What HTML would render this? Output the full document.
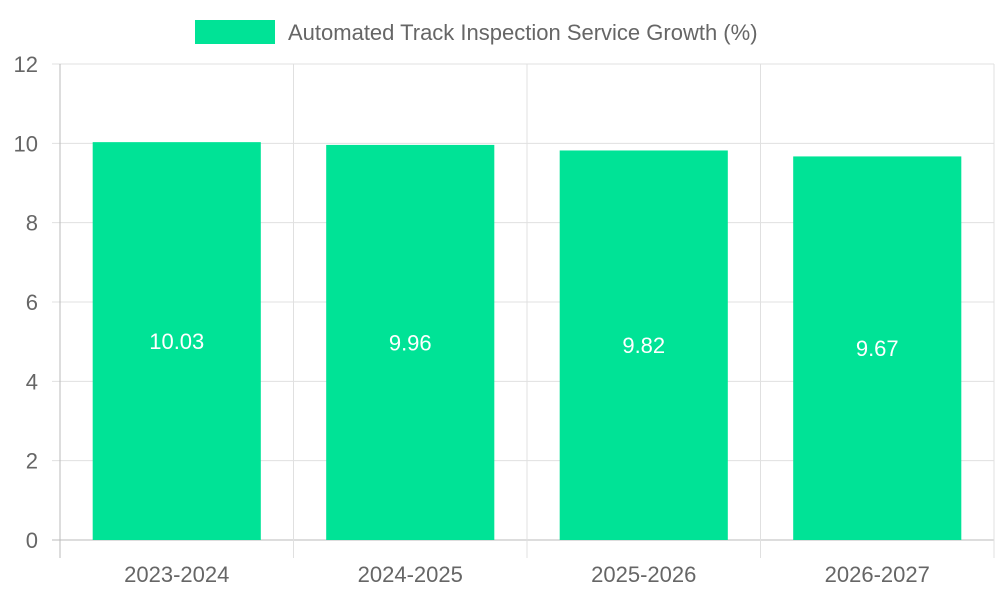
<!DOCTYPE html>
<html><head><meta charset="utf-8"><style>
body{margin:0;background:#fff;font-family:"Liberation Sans",sans-serif}
svg text{font-family:"Liberation Sans",sans-serif}
</style></head><body>
<svg id="chart" width="1000" height="600" xmlns="http://www.w3.org/2000/svg">
<g id="legend">
<rect x="195" y="20" width="80" height="24" fill="#00e396"/>
<text x="288" y="40" font-size="22" fill="#666">Automated Track Inspection Service Growth (%)</text>
</g>
<g id="grid"></g><g id="bars"></g><g id="labels"></g>
</svg>
<script>
const categories=["2023-2024","2024-2025","2025-2026","2026-2027"];
const values=[10.03,9.96,9.82,9.67];
const yTicks=[0,2,4,6,8,10,12];
const X0=60,X1=994,Y0=540,Y1=64,YMAX=12;
const ns="http://www.w3.org/2000/svg";
const y=v=>Y0-(v/YMAX)*(Y0-Y1);
const bw=(X1-X0)/categories.length;
const x=i=>X0+i*bw;
function mk(t,a,p){const e=document.createElementNS(ns,t);for(const k in a)e.setAttribute(k,a[k]);p.appendChild(e);return e;}
const grid=document.getElementById('grid'),bars=document.getElementById('bars'),labels=document.getElementById('labels');
yTicks.forEach(t=>{
 const l=mk('line',{x1:X0-8,x2:X1,y1:y(t),y2:y(t),stroke:t===0?'#bbb':'#e0e0e0','stroke-width':1},grid);
 
 
 const tx=mk('text',{x:38,y:y(t)+8,'text-anchor':'end','font-size':22,fill:'#666'},grid);
 tx.textContent=t;
 
 
});
for(let i=0;i<=categories.length;i++){
 const l=mk('line',{x1:x(i),x2:x(i),y1:Y1,y2:558,stroke:i===0?'#bbb':'#e0e0e0','stroke-width':1},grid);
 
 
}
categories.forEach((c,i)=>{
 const cx=x(i)+bw/2,w=bw*0.72;
 const r=mk('rect',{x:cx-w/2,y:y(values[i]),width:w,height:Y0-y(values[i]),fill:'#00e396'},bars);
 
 
 const v=mk('text',{x:cx,y:(y(values[i])+Y0)/2+8,'text-anchor':'middle','font-size':22,fill:'#fff'},labels);
 v.textContent=values[i];
 
 
 const t=mk('text',{x:cx,y:582,'text-anchor':'middle','font-size':22,fill:'#666'},labels);
 t.textContent=c;
 
 
});
</script>
</body></html>
